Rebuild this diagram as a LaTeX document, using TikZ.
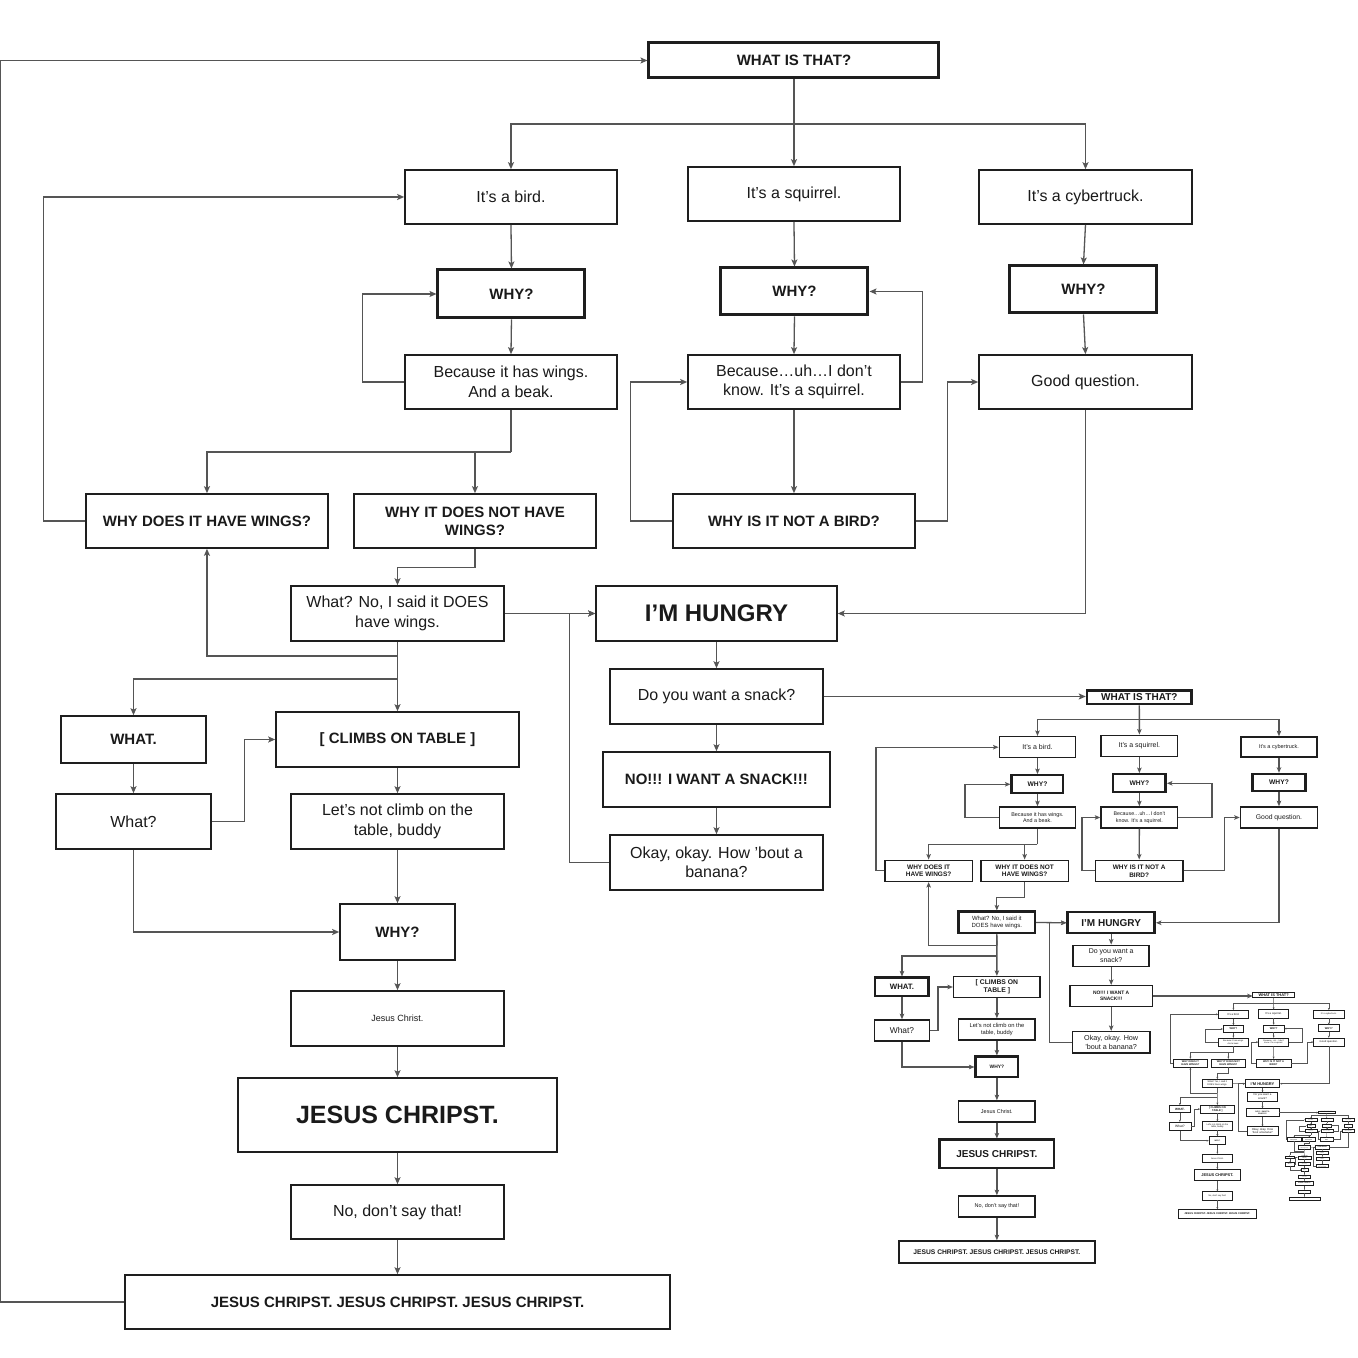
\documentclass[tikz,border=0pt]{standalone}
\usepackage{fontspec}
\setmainfont{Liberation Sans}
\usetikzlibrary{arrows.meta}
\definecolor{boxc}{HTML}{1E1E1E}
\definecolor{txtc}{HTML}{1A1A1A}
\definecolor{connc}{HTML}{555555}
\newcommand\fr[1]{\fontsize{#1}{\fpeval{1.22*#1}}\selectfont}
\newcommand\fb[1]{\bfseries\fontsize{#1}{\fpeval{1.22*#1}}\selectfont}
% name, style, font, x1, y1, x2, y2, text
\newcommand\bx[8]{\node[#2, font=#3, minimum width={#6-#4}, minimum height={#7-#5}] (#1) at ({(#4+#6)/2},{(#5+#7)/2}) {#8};}
\tikzset{
  mbox/.style={draw=boxc, line width=1.6pt, fill=white, align=center, inner sep=0pt, text=txtc, transform shape},
  mthick/.style={mbox, line width=3pt},
  mconn/.style={draw=connc, line width=1.3pt, -{Stealth[length=7pt, width=6pt, inset=1.5pt]}},
  mline/.style={draw=connc, line width=1.3pt},
}
% fixed point of the nesting map
\def\FX{1361.32}
\def\FY{1188.76}
% recursive smaller copy: #1 = level index, #2 = cumulative scale
\newcommand\lvl[2]{%
\begingroup
\pgfmathsetmacro\LWt{1.5*#2}%
\pgfmathsetmacro\LWk{2.4*#2}%
\pgfmathsetmacro\LWc{1.3*#2}%
\pgfmathsetmacro\ALn{5.5*#2}%
\pgfmathsetmacro\AWd{4.5*#2}%
\pgfmathsetmacro\AIn{1.2*#2}%
\tikzset{
  sbox/.style={draw=boxc, line width=\LWt pt, fill=white, align=center, inner sep=0pt, text=txtc, transform shape},
  sthick/.style={sbox, line width=\LWk pt},
  sconn/.style={draw=connc, line width=\LWc pt, -{Stealth[length=\ALn pt, width=\AWd pt, inset=\AIn pt]}},
  sline/.style={draw=connc, line width=\LWc pt},
}%
\bx{L#1what}{sthick}{\fb{10}}{1087}{690.7}{1191.7}{704.3}{WHAT IS THAT?}
\bx{L#1bird}{sbox}{\fr{7}}{999.3}{736.7}{1075.7}{757.7}{It’s a bird.}
\bx{L#1squir}{sbox}{\fr{7}}{1101.1}{735.3}{1177.7}{756.3}{It’s a squirrel.}
\bx{L#1cyber}{sbox}{\fr{5.5}}{1241}{737}{1317}{757}{It’s a cybertruck.}
\bx{L#1whyb}{sthick}{\fb{6.7}}{1011.7}{775.3}{1063.3}{793.3}{WHY?}
\bx{L#1whys}{sthick}{\fb{6.7}}{1113.1}{774.3}{1165.7}{792.3}{WHY?}
\bx{L#1whyc}{sthick}{\fb{6.7}}{1252.5}{774}{1305.5}{791}{WHY?}
\bx{L#1becb}{sbox}{\fr{5.4}}{999.3}{807}{1075.7}{828}{Because it has wings.\\And a beak.}
\bx{L#1becs}{sbox}{\fr{5.3}}{1101.1}{807}{1177.7}{828}{Because…uh…I don’t\\know. It’s a squirrel.}
\bx{L#1good}{sbox}{\fr{6.8}}{1240.5}{807}{1317.5}{828}{Good question.}
\bx{L#1whydoes}{sbox}{\fb{6.5}}{885}{860.3}{972.3}{881.3}{WHY DOES IT\\HAVE WINGS?}
\bx{L#1whynot}{sbox}{\fb{6.5}}{981}{860.3}{1068.3}{881.3}{WHY IT DOES NOT\\HAVE WINGS?}
\bx{L#1wnb}{sbox}{\fb{6.5}}{1095.5}{860.3}{1182.9}{881.3}{WHY IS IT NOT A\\BIRD?}
\bx{L#1whatno}{sthick}{\fr{6}}{958.7}{911.7}{1035}{933.3}{What? No, I said it\\DOES have wings.}
\bx{L#1hungry}{sthick}{\fb{10}}{1067.7}{912.3}{1154.7}{933.3}{I’M HUNGRY}
\bx{L#1snack}{sbox}{\fr{7}}{1073.2}{945.3}{1149.2}{966.3}{Do you want a\\snack?}
\bx{L#1nosnack}{sbox}{\fb{4.9}}{1069.8}{985.7}{1152.6}{1006.3}{NO!!! I WANT A\\SNACK!!!}
\bx{L#1banana}{sbox}{\fr{7.2}}{1072.5}{1031.7}{1149.9}{1053}{Okay, okay. How\\’bout a banana?}
\bx{L#1whatdot}{sthick}{\fb{7.8}}{875.3}{977.7}{928.7}{996}{WHAT.}
\bx{L#1climbs}{sbox}{\fb{6.8}}{953.7}{976.7}{1040.1}{997.3}{[ CLIMBS ON\\TABLE ]}
\bx{L#1whatq}{sbox}{\fr{8.4}}{874.3}{1020}{929.7}{1041}{What?}
\bx{L#1letsnot}{sbox}{\fr{5.8}}{958.7}{1019}{1035.1}{1040}{Let’s not climb on the\\table, buddy}
\bx{L#1whyf}{sthick}{\fb{4.9}}{975.7}{1056.7}{1018.1}{1077.3}{WHY?}
\bx{L#1jc}{sbox}{\fr{5.5}}{958.7}{1101}{1035.1}{1122}{Jesus Christ.}
\bx{L#1jcx}{sthick}{\fb{10}}{939.6}{1139.7}{1054.2}{1168.3}{JESUS CHRIPST.}
\bx{L#1nodont}{sbox}{\fr{5.5}}{958.7}{1196}{1035.1}{1217}{No, don’t say that!}
\bx{L#1final}{sbox}{\fb{6.7}}{898.9}{1241}{1094.9}{1263}{JESUS CHRIPST. JESUS CHRIPST. JESUS CHRIPST.}
\coordinate (L#1jt) at (1139.4,719.3);
\coordinate (L#1jb) at (1037.5,844.3);
\coordinate (L#1jn1) at (996.9,945.7);
\coordinate (L#1jn2) at (996.9,956);
\draw[sconn] (L#1what.south) -- (L#1squir.north);
\draw[sconn] (L#1jt) -| (L#1bird.north);
\draw[sconn] (L#1jt) -| (L#1cyber.north);
\draw[sconn] (L#1bird.south) -- (L#1whyb.north);
\draw[sconn] (L#1squir.south) -- (L#1whys.north);
\draw[sconn] (L#1cyber.south) -- (L#1whyc.north);
\draw[sconn] (L#1whyb.south) -- (L#1becb.north);
\draw[sconn] (L#1whys.south) -- (L#1becs.north);
\draw[sconn] (L#1whyc.south) -- (L#1good.north);
\draw[sconn] (L#1becb.west) -- ++(-33.6,0) |- (L#1whyb.west);
\draw[sconn] (L#1becs.east) -- ++(33.7,0) |- (L#1whys.east);
\draw[sconn] (L#1becs.south) -- (L#1wnb.north);
\draw[sconn] (L#1wnb.west) -- ++(-12.6,0) |- (L#1becs.west);
\draw[sconn] (L#1wnb.east) -- ++(41.1,0) |- (L#1good.west);
\draw[sconn] (L#1good.south) |- (L#1hungry.east);
\draw[sline] (L#1becb.south) -- (L#1jb);
\draw[sconn] (L#1jb) -| (L#1whydoes.north);
\draw[sconn] (L#1jb) -| (L#1whynot.north);
\draw[sconn] (L#1whydoes.west) -- ++(-8.3,0) |- (L#1bird.west);
\draw[sconn] (L#1whynot.south) -- ++(0,15.4) -| (L#1whatno.north);
\draw[sconn] (L#1whatno.east) -- (L#1hungry.west);
\draw[sline] (L#1whatno.south) -- (L#1jn1);
\draw[sconn] (L#1jn1) -| (L#1whydoes.south);
\draw[sconn] (L#1whatno.south) -- (L#1climbs.north);
\draw[sconn] (L#1jn2) -| (L#1whatdot.north);
\draw[sconn] (L#1banana.west) -- ++(-22.5,0) |- (L#1hungry.west);
\draw[sconn] (L#1hungry.south) -- (L#1snack.north);
\draw[sconn] (L#1snack.south) -- (L#1nosnack.north);
\draw[sconn] (L#1nosnack.south) -- (L#1banana.north);
\draw[sconn] (L#1whatdot.south) -- (L#1whatq.north);
\draw[sconn] (L#1whatq.east) -- ++(7.6,0) |- (L#1climbs.west);
\draw[sconn] (L#1whatq.south) |- (L#1whyf.west);
\draw[sconn] (L#1climbs.south) -- (L#1letsnot.north);
\draw[sconn] (L#1letsnot.south) -- (L#1whyf.north);
\draw[sconn] (L#1whyf.south) -- (L#1jc.north);
\draw[sconn] (L#1jc.south) -- (L#1jcx.north);
\draw[sconn] (L#1jcx.south) -- (L#1nodont.north);
\draw[sconn] (L#1nodont.south) -- (L#1final.north);
\ifnum#1<3
  \pgfmathtruncatemacro\nidx{#1+1}%
  \pgfmathsetmacro\nsc{#2*0.395}%
  \begin{scope}[shift={(\FX,\FY)}, scale=0.395, shift={(-\FX,-\FY)}]
    \edef\nextlvl{\noexpand\lvl{\nidx}{\nsc}}\nextlvl
  \end{scope}
  \edef\nextconn{\noexpand\draw[sconn] (L#1nosnack.east) -- (L#1nosnack.east -| L\nidx what.west);}\nextconn
\fi
\endgroup
}
\begin{document}
\begin{tikzpicture}[x=1pt, y=-1pt, line join=miter]
\begin{scope}[shift={(-\FX,-\FY)}]
\fill[white] (0,0) rectangle (1358,1358);
\useasboundingbox (0,0) rectangle (1358,1358);
% main diagram
\bx{what}{mthick}{\fb{15}}{649}{43}{939}{78}{WHAT IS THAT?}
\bx{bird}{mbox}{\fr{16}}{405}{170}{617}{224}{It’s a bird.}
\bx{squir}{mbox}{\fr{16}}{688}{167}{900}{221}{It’s a squirrel.}
\bx{cyber}{mbox}{\fr{16}}{979}{170}{1192}{224}{It’s a cybertruck.}
\bx{whyb}{mthick}{\fb{15}}{438}{270}{585}{318}{WHY?}
\bx{whys}{mthick}{\fb{15}}{721}{268}{868}{315}{WHY?}
\bx{whyc}{mthick}{\fb{15}}{1010}{266}{1157}{313}{WHY?}
\bx{becb}{mbox}{\fr{16}}{405}{355}{617}{409}{Because it has wings.\\And a beak.}
\bx{becs}{mbox}{\fr{16}}{688}{355}{900}{409}{Because…uh…I don’t\\know. It’s a squirrel.}
\bx{good}{mbox}{\fr{16}}{979}{355}{1192}{409}{Good question.}
\bx{whydoes}{mbox}{\fb{15}}{86}{494}{328}{548}{WHY DOES IT HAVE WINGS?}
\bx{whynot}{mbox}{\fb{15}}{354}{494}{596}{548}{WHY IT DOES NOT HAVE\\WINGS?}
\bx{wnb}{mbox}{\fb{15}}{673}{494}{915}{548}{WHY IS IT NOT A BIRD?}
\bx{whatno}{mbox}{\fr{16}}{291}{586}{504}{641}{What? No, I said it DOES\\have wings.}
\bx{hungry}{mbox}{\fb{24}}{596}{586}{837}{641}{I’M HUNGRY}
\bx{snack}{mbox}{\fr{16}}{610}{669}{823}{724}{Do you want a snack?}
\bx{nosnack}{mbox}{\fb{15}}{603}{752}{830}{807}{NO!!! I WANT A SNACK!!!}
\bx{banana}{mbox}{\fr{16}}{610}{835}{823}{890}{Okay, okay. How ’bout a\\banana?}
\bx{whatdot}{mbox}{\fb{15}}{61}{716}{206}{763}{WHAT.}
\bx{climbs}{mbox}{\fb{15}}{276}{712}{519}{767}{[ CLIMBS ON TABLE ]}
\bx{whatq}{mbox}{\fr{16}}{56}{794}{211}{849}{What?}
\bx{letsnot}{mbox}{\fr{16}}{291}{794}{504}{849}{Let’s not climb on the\\table, buddy}
\bx{whyf}{mbox}{\fb{15}}{340}{904}{455}{960}{WHY?}
\bx{jc}{mbox}{\fr{9}}{291}{991}{504}{1046}{Jesus Christ.}
\bx{jcx}{mbox}{\fb{25}}{238}{1078}{557}{1152}{JESUS CHRIPST.}
\bx{nodont}{mbox}{\fr{16}}{291}{1185}{504}{1239}{No, don’t say that!}
\bx{final}{mbox}{\fb{15}}{125}{1275}{670}{1329}{JESUS CHRIPST. JESUS CHRIPST. JESUS CHRIPST.}
\coordinate (jt) at (794,124);
\coordinate (jb) at (511,452);
\coordinate (jn1) at (397.5,656);
\coordinate (jn2) at (397.5,679);
\coordinate (lp) at (0.8,1302);
\draw[mconn] (what.south) -- (squir.north);
\draw[mconn] (jt) -| (bird.north);
\draw[mconn] (jt) -| (cyber.north);
\draw[mconn] (bird.south) -- (whyb.north);
\draw[mconn] (squir.south) -- (whys.north);
\draw[mconn] (cyber.south) -- (whyc.north);
\draw[mconn] (whyb.south) -- (becb.north);
\draw[mconn] (whys.south) -- (becs.north);
\draw[mconn] (whyc.south) -- (good.north);
\draw[mconn] (becb.west) -- ++(-42,0) |- (whyb.west);
\draw[mconn] (becs.east) -- ++(22,0) |- (whys.east);
\draw[mconn] (becs.south) -- (wnb.north);
\draw[mconn] (wnb.west) -- ++(-42,0) |- (becs.west);
\draw[mconn] (wnb.east) -- ++(32,0) |- (good.west);
\draw[mconn] (good.south) |- (hungry.east);
\draw[mline] (becb.south) -- (jb);
\draw[mconn] (jb) -| (whydoes.north);
\draw[mconn] (jb) -| (whynot.north);
\draw[mconn] (whydoes.west) -- ++(-42,0) |- (bird.west);
\draw[mconn] (whynot.south) -- ++(0,19) -| (whatno.north);
\draw[mconn] (whatno.east) -- (hungry.west);
\draw[mline] (whatno.south) -- (jn1);
\draw[mconn] (jn1) -| (whydoes.south);
\draw[mconn] (whatno.south) -- (climbs.north);
\draw[mconn] (jn2) -| (whatdot.north);
\draw[mconn] (banana.west) -- ++(-40,0) |- (hungry.west);
\draw[mconn] (hungry.south) -- (snack.north);
\draw[mconn] (snack.south) -- (nosnack.north);
\draw[mconn] (nosnack.south) -- (banana.north);
\draw[mconn] (whatdot.south) -- (whatq.north);
\draw[mconn] (whatq.east) -- ++(33,0) |- (climbs.west);
\draw[mconn] (whatq.south) |- (whyf.west);
\draw[mconn] (climbs.south) -- (letsnot.north);
\draw[mconn] (letsnot.south) -- (whyf.north);
\draw[mconn] (whyf.south) -- (jc.north);
\draw[mconn] (jc.south) -- (jcx.north);
\draw[mconn] (jcx.south) -- (nodont.north);
\draw[mconn] (nodont.south) -- (final.north);
\draw[mconn] (final.west) -- (lp) |- (what.west);
% nested copy of the diagram
\lvl{1}{1}
\draw[mconn] (snack.east) -- (snack.east -| L1what.west);
\end{scope}
\end{tikzpicture}
\end{document}
